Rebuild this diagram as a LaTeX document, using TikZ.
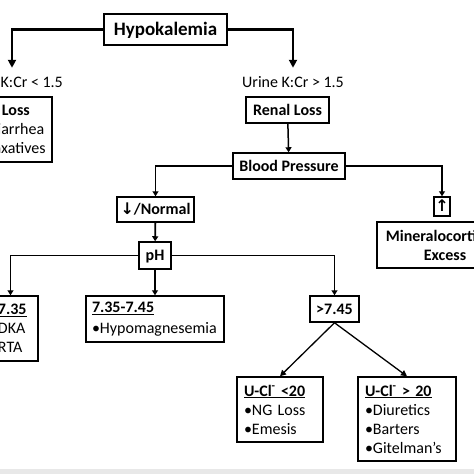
\documentclass[tikz,border=0pt]{standalone}
\usepackage{fontspec}
\setmainfont{Carlito}
\newfontfamily\arrowfont{DejaVu Sans}
\usetikzlibrary{arrows.meta}
\tikzset{>=Triangle}
\tikzset{box/.style={draw, line width=1.5pt, font=\bfseries\fontsize{16}{19}\selectfont, inner xsep=4pt, inner ysep=0pt, text height=10.5pt, text depth=0pt}}
\tikzset{listbox/.style={draw, line width=1.5pt, font=\fontsize{16}{19}\selectfont, inner xsep=7pt, inner ysep=0pt, align=left}}
\tikzset{ratio/.style={font=\fontsize{16}{19}\selectfont, inner sep=0pt, text height=10.5pt, text depth=0pt, outer ysep=9pt}}
\tikzset{bigarr/.style={line width=2.5pt, -{Triangle[length=8pt, width=8pt]}}}
\tikzset{arr/.style={line width=1.8pt, -{Triangle[length=5pt, width=6pt]}}}
\tikzset{thinarr/.style={line width=1.3pt, -{Triangle[length=6pt, width=6pt]}}}
\newcommand{\dn}{{\arrowfont\bfseries ↓}}
\newcommand{\up}{{\arrowfont\bfseries ↑}}

\begin{document}
\begin{tikzpicture}[x=1pt, y=-1pt, line cap=rect, line join=miter]

	% Frame
	\useasboundingbox (0,0) rectangle (474,474);
	\clip (0,0) rectangle (474,474);
	\fill[black!9] (0,469) rectangle (474,474);

	% Top
	\node[box, line width=2.6pt, font=\bfseries\fontsize{19}{22}\selectfont, text height=12.2pt, minimum width=123pt, minimum height=31pt] (hypo) at (165.5,29.5) {Hypokalemia};
	\node[ratio] (lowratio) at (12,82) {Urine K:Cr < 1.5};
	\node[ratio] (highratio) at (293,82) {Urine K:Cr > 1.5};
	\draw[bigarr] (hypo.west) -| (lowratio.north);
	\draw[bigarr] (hypo.east) -| (highratio.north);

	% Extrarenal side
	\node[listbox, align=center, text width=66pt, minimum height=65pt] (gi) at (12,129.5) {\hspace*{-12pt}\textbf{GI Loss}\\•Diarrhea\\•Laxatives};

	% Renal side
	\node[box, line width=2pt, minimum width=83pt, minimum height=26pt] (renal) at (287.5,110) {Renal Loss};
	\node[box, minimum width=112pt, minimum height=26pt] (bp) at (289,166) {Blood Pressure};
	\draw[arr, line width=1.5pt] (renal) -- (bp);

	% Blood pressure
	\node[box, inner xsep=2pt, minimum width=77pt, minimum height=25pt] (bpdown) at (155.5,209.5) {\dn/Normal};
	\node[box, inner sep=0pt, minimum width=16pt, minimum height=19pt] (bpup) at (442,206.5) {\up};
	\node[listbox, font=\bfseries\fontsize{16}{19}\selectfont, align=center, minimum width=136pt, minimum height=46pt] (mineralo) at (445,245) {Mineralocorticoid\\Excess};
	\draw[arr] (bp.west) -| (bpdown.north);
	\draw[arr] (bp.east) -| (bpup.north);

	% pH
	\node[box, minimum width=32pt, minimum height=27pt] (ph) at (155,255.5) {pH};
	\draw[arr] (bpdown) -- (ph);

	\node[listbox, text width=41pt, minimum height=65pt] (acid) at (10.5,328.5) {\underline{\textbf{<7.35}}\\•DKA\\•RTA};
	\node[listbox, inner xsep=6pt, text width=126pt, minimum height=46pt] (neutral) at (155,319) {\underline{\textbf{7.35-7.45}}\\[2pt]•Hypomagnesemia};
	\node[box, minimum width=49pt, minimum height=26pt] (alkal) at (334.5,309) {>7.45};
	\draw[arr] (ph.west) -| (acid.north);
	\draw[arr] (ph) -- (neutral);
	\draw[arr] (ph.east) -| (alkal.north);

	% Urine chloride
	\node[listbox, text width=72pt, minimum height=65pt] (uclow) at (280,409.5) {\underline{\textbf{U-Cl\textsuperscript{-} <20}}\\•NG Loss\\•Emesis};
	\node[listbox, text width=84pt, minimum height=84pt] (uchigh) at (407,419) {\underline{\textbf{U-Cl\textsuperscript{-} > 20}}\\•Diuretics\\•Barters\\•Gitelman’s};
	\draw[thinarr] (alkal.south) -- (uclow.north);
	\draw[thinarr] (alkal.south) -- (uchigh.north);
\end{tikzpicture}
\end{document}
